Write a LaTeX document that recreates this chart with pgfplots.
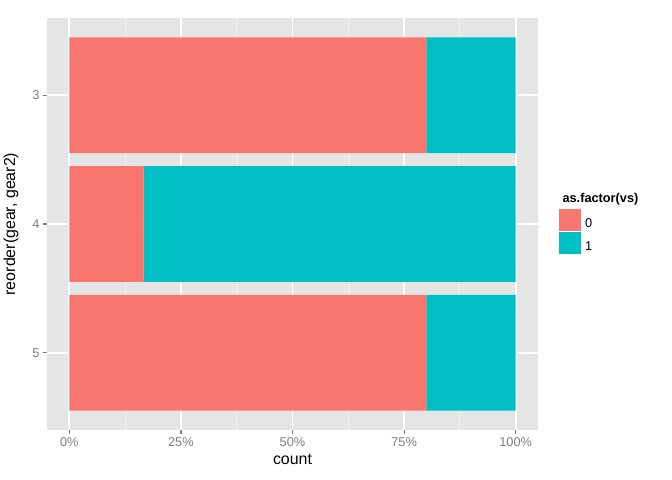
\documentclass[border=0pt]{standalone}
\usepackage{fontspec}
\setmainfont{Liberation Sans}
\usepackage{pgfplots}
\pgfplotsset{compat=1.18}
\definecolor{redgg}{HTML}{F8766D}
\definecolor{tealgg}{HTML}{00BFC4}
\definecolor{panelbg}{HTML}{E5E5E5}
\definecolor{minorgrid}{HTML}{F2F2F2}
\definecolor{grey50}{HTML}{7F7F7F}
\begin{document}
\begin{tikzpicture}[x=1bp,y=1bp]
\useasboundingbox (0,0) rectangle (672,480);
\begin{axis}[
  at={(47bp,50bp)}, anchor=south west,
  scale only axis, width=491bp, height=412bp,
  xbar stacked, bar width=0.9,
  xmin=-0.05, xmax=1.05, ymin=0.4, ymax=3.6,
  xtick={0,0.25,0.5,0.75,1},
  xticklabels={0\%,25\%,50\%,75\%,100\%},
  minor xtick={0.125,0.375,0.625,0.875},
  ytick={1,2,3}, yticklabels={5,4,3},
  axis background/.style={fill=panelbg},
  axis line style={draw=none},
  grid=both,
  major grid style={white, line width=1.9bp},
  minor grid style={minorgrid, line width=0.95bp},
  tick align=outside, major tick length=4bp, minor tick length=0pt,
  tick style={grey50, line width=1.2bp},
  ticklabel style={font=\fontsize{12.8}{14}\selectfont, text=grey50},
  xtick pos=bottom, ytick pos=left,
  legend style={draw=none, fill=none, at={(1.0428,0.5364)}, anchor=north west,
    inner sep=0pt, row sep=1bp, column sep=4bp,
    nodes={inner sep=0pt, font=\fontsize{12.8}{14}\selectfont}},
  legend cell align=left,
  legend image code/.code={\fill[#1,draw=none] (0bp,-7.6bp) rectangle (22bp,14.4bp);},
]
\addplot[fill=redgg, draw=none] coordinates {(0.8,3) (0.1667,2) (0.8,1)};
\addplot[fill=tealgg, draw=none] coordinates {(0.2,3) (0.8333,2) (0.2,1)};
\legend{0,1}
\end{axis}
\node[anchor=base west, font=\bfseries\fontsize{12.8}{14}\selectfont] at (559,277) {as.factor(vs)};
\node[anchor=base, font=\fontsize{16}{18}\selectfont] at (292.5,15) {count};
\node[anchor=base, rotate=90, font=\fontsize{16}{18}\selectfont] at (15,256) {reorder(gear, gear2)};
\end{tikzpicture}
\end{document}
